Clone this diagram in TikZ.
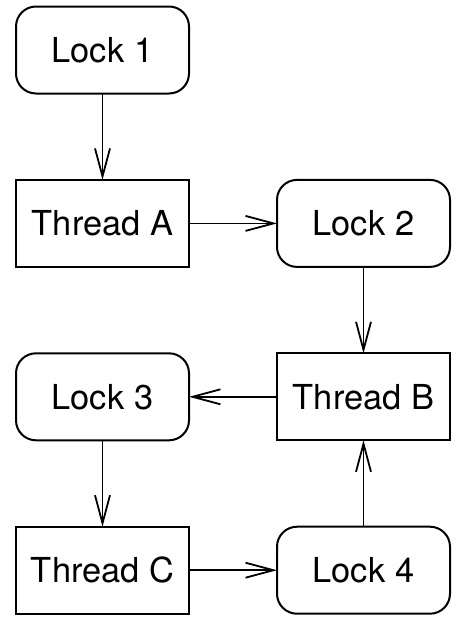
\documentclass[tikz,border=0pt]{standalone}
\usepackage{fontspec}
\setmainfont{TeX Gyre Heros}
\usetikzlibrary{positioning, arrows.meta}

\begin{document}
\begin{tikzpicture}[
      x=0.5pt, y=-0.5pt,
      node distance=43.2pt and 44pt,
      every node/.style={font=\fontsize{17.2}{20}\selectfont, line width=1pt,
        minimum width=86.5pt, minimum height=43.5pt, inner sep=0pt, outer sep=0pt},
      lock/.style={draw, rounded corners=10pt},
      thread/.style={draw},
      edge/.style={line width=0.9pt, -{Straight Barb[length=14pt, width=7.5pt, line width=0.9pt]}}]
    \useasboundingbox (0,0) rectangle (474,621);
    \node[lock] (lock1) at (102.5,50) {Lock 1};
    \node[thread] (thrA) [below=of lock1] {Thread A};
    \node[lock] (lock2) [right=of thrA] {Lock 2};
    \node[thread] (thrB) [below=of lock2] {Thread B};
    \node[lock] (lock3) [left=of thrB] {Lock 3};
    \node[thread] (thrC) [below=of lock3] {Thread C};
    \node[lock] (lock4) [right=of thrC] {Lock 4};
    % waits-for cycle
    \draw[edge] (lock1) -- (thrA);
    \draw[edge] (thrA) -- (lock2);
    \draw[edge] (lock2) -- (thrB);
    \draw[edge] (thrB) -- (lock3);
    \draw[edge] (lock3) -- (thrC);
    \draw[edge] (thrC) -- (lock4);
    \draw[edge] (lock4) -- (thrB);
\end{tikzpicture}
\end{document}
